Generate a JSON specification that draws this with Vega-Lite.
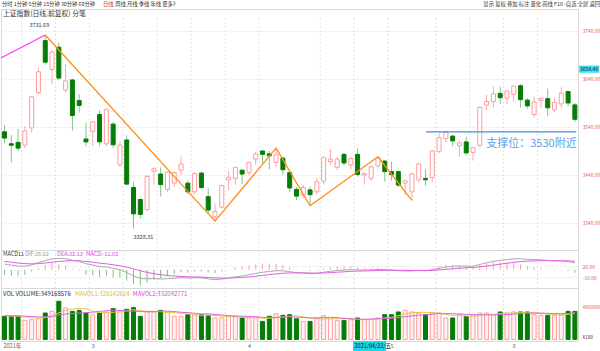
{
"$schema":"https://vega.github.io/schema/vega-lite/v6.json",
"padding":0,
"background":"white",
"spacing":0,
"bounds":"flush",
"config":{"font":"Noto Sans CJK SC","view":{"stroke":"#d9d9d9"},"line":{"strokeJoin":"round","strokeCap":"butt"}},
"resolve":{"scale":{"x":"independent","y":"independent"}},
"datasets":{
"one":[{}],
"k":[
{"i":0,"o":3530,"h":3544,"l":3506,"c":3517,"v":2880000,"dif":21.7,"dea":31.5,"m":-19.6,"a5":2950000,"a10":2950000},
{"i":1,"o":3505,"h":3523,"l":3466,"c":3502,"v":2880000,"dif":17.7,"dea":28.7,"m":-22.0,"a5":2900000,"a10":2950000},
{"i":2,"o":3508,"h":3536,"l":3490,"c":3496,"v":2880000,"dif":13.8,"dea":25.7,"m":-23.8,"a5":2900000,"a10":2950000},
{"i":3,"o":3502,"h":3542,"l":3496,"c":3532,"v":2380000,"dif":13.5,"dea":23.3,"m":-19.6,"a5":2800000,"a10":2900000},
{"i":4,"o":3538,"h":3604,"l":3528,"c":3603,"v":2460000,"dif":18.8,"dea":22.4,"m":-7.2,"a5":2700000,"a10":2850000},
{"i":5,"o":3612,"h":3664,"l":3608,"c":3655,"v":2580000,"dif":26.9,"dea":23.3,"m":7.2,"a5":2640000,"a10":2800000},
{"i":6,"o":3720,"h":3731.69,"l":3670,"c":3675,"v":3290000,"dif":34.5,"dea":25.5,"m":18.0,"a5":2720000,"a10":2810000},
{"i":7,"o":3660,"h":3700,"l":3630,"c":3696,"v":3500000,"dif":41.7,"dea":28.7,"m":26.0,"a5":2840000,"a10":2870000},
{"i":8,"o":3706,"h":3716,"l":3638,"c":3642,"v":4750000,"dif":42.6,"dea":31.5,"m":22.2,"a5":3320000,"a10":3060000},
{"i":9,"o":3617,"h":3671,"l":3612,"c":3636,"v":3920000,"dif":42.3,"dea":33.7,"m":17.2,"a5":3610000,"a10":3160000},
{"i":10,"o":3638,"h":3640,"l":3532,"c":3564,"v":3500000,"dif":35.9,"dea":34.1,"m":3.6,"a5":3790000,"a10":3220000},
{"i":11,"o":3595,"h":3608,"l":3570,"c":3585,"v":3620000,"dif":32.2,"dea":33.7,"m":-3.0,"a5":3860000,"a10":3290000},
{"i":12,"o":3515,"h":3549,"l":3500,"c":3509,"v":3290000,"dif":22.8,"dea":31.5,"m":-17.4,"a5":3820000,"a10":3330000},
{"i":13,"o":3531,"h":3552,"l":3500,"c":3551,"v":3080000,"dif":18.5,"dea":28.9,"m":-20.8,"a5":3480000,"a10":3400000},
{"i":14,"o":3566,"h":3575,"l":3500,"c":3509,"v":3290000,"dif":11.6,"dea":25.4,"m":-27.6,"a5":3360000,"a10":3490000},
{"i":15,"o":3505,"h":3578,"l":3500,"c":3577,"v":3420000,"dif":11.4,"dea":22.6,"m":-22.4,"a5":3340000,"a10":3570000},
{"i":16,"o":3546,"h":3551,"l":3496,"c":3503,"v":3830000,"dif":5.2,"dea":19.1,"m":-27.8,"a5":3380000,"a10":3620000},
{"i":17,"o":3461,"h":3510,"l":3457,"c":3502,"v":3540000,"dif":0.3,"dea":15.3,"m":-30.0,"a5":3430000,"a10":3630000},
{"i":18,"o":3513,"h":3523,"l":3419,"c":3421,"v":3750000,"dif":-10.1,"dea":10.2,"m":-40.6,"a5":3570000,"a10":3530000},
{"i":19,"o":3414,"h":3426,"l":3328.31,"c":3359,"v":3960000,"dif":-23.0,"dea":3.6,"m":-53.2,"a5":3700000,"a10":3530000},
{"i":20,"o":3389,"h":3391,"l":3349,"c":3358,"v":2880000,"dif":-32.9,"dea":-3.7,"m":-58.4,"a5":3590000,"a10":3470000},
{"i":21,"o":3368,"h":3440,"l":3365,"c":3437,"v":3420000,"dif":-34.0,"dea":-9.8,"m":-48.4,"a5":3510000,"a10":3450000},
{"i":22,"o":3448,"h":3456,"l":3420,"c":3453,"v":3420000,"dif":-33.2,"dea":-14.5,"m":-37.4,"a5":3490000,"a10":3460000},
{"i":23,"o":3442,"h":3456,"l":3395,"c":3420,"v":3620000,"dif":-34.8,"dea":-18.6,"m":-32.4,"a5":3460000,"a10":3520000},
{"i":24,"o":3410,"h":3448,"l":3405,"c":3446,"v":3420000,"dif":-33.6,"dea":-21.6,"m":-24.0,"a5":3350000,"a10":3530000},
{"i":25,"o":3423,"h":3447,"l":3415,"c":3445,"v":2880000,"dif":-32.3,"dea":-23.7,"m":-17.2,"a5":3350000,"a10":3470000},
{"i":26,"o":3450,"h":3478,"l":3440,"c":3463,"v":2880000,"dif":-29.5,"dea":-24.9,"m":-9.2,"a5":3240000,"a10":3380000},
{"i":27,"o":3423,"h":3428,"l":3400,"c":3405,"v":3080000,"dif":-31.6,"dea":-26.2,"m":-10.8,"a5":3180000,"a10":3340000},
{"i":28,"o":3405,"h":3446,"l":3400,"c":3443,"v":3080000,"dif":-29.9,"dea":-26.9,"m":-6.0,"a5":3070000,"a10":3270000},
{"i":29,"o":3444,"h":3447,"l":3410,"c":3414,"v":3080000,"dif":-30.5,"dea":-27.6,"m":-5.8,"a5":3000000,"a10":3180000},
{"i":30,"o":3395,"h":3413,"l":3360,"c":3367,"v":3000000,"dif":-34.4,"dea":-29.0,"m":-10.8,"a5":3020000,"a10":3190000},
{"i":31,"o":3353,"h":3381,"l":3344,"c":3364,"v":2670000,"dif":-37.3,"dea":-30.7,"m":-13.2,"a5":2980000,"a10":3110000},
{"i":32,"o":3373,"h":3420,"l":3370,"c":3418,"v":2670000,"dif":-34.9,"dea":-31.5,"m":-6.8,"a5":2900000,"a10":3040000},
{"i":33,"o":3430,"h":3448,"l":3409,"c":3435,"v":2880000,"dif":-31.2,"dea":-31.4,"m":0.4,"a5":2860000,"a10":2970000},
{"i":34,"o":3433,"h":3457,"l":3420,"c":3456,"v":2880000,"dif":-26.3,"dea":-30.4,"m":8.2,"a5":2820000,"a10":2910000},
{"i":35,"o":3450,"h":3451,"l":3421,"c":3442,"v":2670000,"dif":-23.3,"dea":-29.0,"m":11.4,"a5":2750000,"a10":2890000},
{"i":36,"o":3445,"h":3468,"l":3440,"c":3466,"v":2670000,"dif":-18.7,"dea":-26.9,"m":16.4,"a5":2750000,"a10":2870000},
{"i":37,"o":3473,"h":3488,"l":3460,"c":3484,"v":2670000,"dif":-13.5,"dea":-24.2,"m":21.4,"a5":2750000,"a10":2830000},
{"i":38,"o":3490,"h":3491,"l":3464,"c":3483,"v":2250000,"dif":-9.3,"dea":-21.2,"m":23.8,"a5":2630000,"a10":2750000},
{"i":39,"o":3484,"h":3490,"l":3452,"c":3480,"v":2880000,"dif":-6.2,"dea":-18.2,"m":24.0,"a5":2630000,"a10":2730000},
{"i":40,"o":3466,"h":3496,"l":3456,"c":3482,"v":3200000,"dif":-3.5,"dea":-15.3,"m":23.6,"a5":2730000,"a10":2740000},
{"i":41,"o":3475,"h":3478,"l":3440,"c":3451,"v":3000000,"dif":-3.8,"dea":-13.0,"m":18.4,"a5":2800000,"a10":2780000},
{"i":42,"o":3445,"h":3450,"l":3405,"c":3413,"v":3080000,"dif":-7.0,"dea":-11.8,"m":9.6,"a5":2880000,"a10":2820000},
{"i":43,"o":3410,"h":3415,"l":3388,"c":3396,"v":2580000,"dif":-10.9,"dea":-11.6,"m":1.4,"a5":2950000,"a10":2790000},
{"i":44,"o":3398,"h":3419,"l":3392,"c":3414,"v":2250000,"dif":-12.3,"dea":-11.7,"m":-1.2,"a5":2820000,"a10":2730000},
{"i":45,"o":3409,"h":3416,"l":3376,"c":3399,"v":2250000,"dif":-14.5,"dea":-12.3,"m":-4.4,"a5":2630000,"a10":2680000},
{"i":46,"o":3405,"h":3434,"l":3400,"c":3426,"v":2670000,"dif":-13.9,"dea":-12.6,"m":-2.6,"a5":2570000,"a10":2690000},
{"i":47,"o":3427,"h":3478,"l":3420,"c":3477,"v":2960000,"dif":-9.2,"dea":-11.9,"m":5.4,"a5":2540000,"a10":2710000},
{"i":48,"o":3468,"h":3494,"l":3460,"c":3473,"v":2670000,"dif":-5.7,"dea":-10.7,"m":10.0,"a5":2560000,"a10":2760000},
{"i":49,"o":3456,"h":3478,"l":3450,"c":3473,"v":2380000,"dif":-2.9,"dea":-9.1,"m":12.4,"a5":2590000,"a10":2710000},
{"i":50,"o":3483,"h":3486,"l":3460,"c":3465,"v":2380000,"dif":-1.4,"dea":-7.6,"m":12.4,"a5":2610000,"a10":2620000},
{"i":51,"o":3461,"h":3478,"l":3452,"c":3474,"v":2460000,"dif":0.6,"dea":-6.0,"m":13.2,"a5":2570000,"a10":2570000},
{"i":52,"o":3483,"h":3496,"l":3437,"c":3441,"v":2670000,"dif":-0.5,"dea":-4.9,"m":8.8,"a5":2510000,"a10":2530000},
{"i":53,"o":3440,"h":3444,"l":3420,"c":3443,"v":2460000,"dif":-1.2,"dea":-4.2,"m":6.0,"a5":2470000,"a10":2520000},
{"i":54,"o":3433,"h":3460,"l":3428,"c":3457,"v":2460000,"dif":-0.6,"dea":-3.5,"m":5.8,"a5":2490000,"a10":2540000},
{"i":55,"o":3459,"h":3478,"l":3455,"c":3475,"v":2670000,"dif":1.3,"dea":-2.5,"m":7.6,"a5":2540000,"a10":2580000},
{"i":56,"o":3469,"h":3471,"l":3426,"c":3447,"v":3080000,"dif":0.5,"dea":-1.9,"m":4.8,"a5":2670000,"a10":2620000},
{"i":57,"o":3447,"h":3468,"l":3428,"c":3441,"v":3080000,"dif":-0.6,"dea":-1.6,"m":2.0,"a5":2750000,"a10":2630000},
{"i":58,"o":3447,"h":3450,"l":3415,"c":3419,"v":3420000,"dif":-3.2,"dea":-1.9,"m":-2.6,"a5":2940000,"a10":2710000},
{"i":59,"o":3423,"h":3430,"l":3398,"c":3428,"v":3620000,"dif":-4.5,"dea":-2.4,"m":-4.2,"a5":3170000,"a10":2830000},
{"i":60,"o":3405,"h":3445,"l":3387,"c":3442,"v":3420000,"dif":-4.3,"dea":-2.8,"m":-3.0,"a5":3320000,"a10":2930000},
{"i":61,"o":3430,"h":3465,"l":3425,"c":3463,"v":3290000,"dif":-2.4,"dea":-2.7,"m":0.6,"a5":3370000,"a10":3020000},
{"i":62,"o":3433,"h":3452,"l":3418,"c":3430,"v":3080000,"dif":-3.6,"dea":-2.9,"m":-1.4,"a5":3370000,"a10":3060000},
{"i":63,"o":3435,"h":3491,"l":3425,"c":3490,"v":3290000,"dif":0.4,"dea":-2.2,"m":5.2,"a5":3340000,"a10":3140000},
{"i":64,"o":3489,"h":3528,"l":3485,"c":3518,"v":3290000,"dif":5.7,"dea":-0.6,"m":12.6,"a5":3270000,"a10":3220000},
{"i":65,"o":3516,"h":3532,"l":3508,"c":3529,"v":2670000,"dif":10.7,"dea":1.7,"m":18.0,"a5":3120000,"a10":3220000},
{"i":66,"o":3521,"h":3524,"l":3500,"c":3511,"v":2670000,"dif":13.0,"dea":4.0,"m":18.0,"a5":3000000,"a10":3190000},
{"i":67,"o":3501,"h":3511,"l":3478,"c":3507,"v":3080000,"dif":14.4,"dea":6.1,"m":16.6,"a5":3000000,"a10":3190000},
{"i":68,"o":3509,"h":3520,"l":3481,"c":3486,"v":2880000,"dif":13.7,"dea":7.6,"m":12.2,"a5":2920000,"a10":3130000},
{"i":69,"o":3487,"h":3497,"l":3470,"c":3497,"v":3080000,"dif":13.8,"dea":8.8,"m":10.0,"a5":2880000,"a10":3080000},
{"i":70,"o":3502,"h":3582,"l":3497,"c":3581,"v":3290000,"dif":20.4,"dea":11.1,"m":18.6,"a5":3000000,"a10":3060000},
{"i":71,"o":3586,"h":3607,"l":3575,"c":3593,"v":3290000,"dif":26.3,"dea":14.1,"m":24.4,"a5":3120000,"a10":3060000},
{"i":72,"o":3593,"h":3625,"l":3580,"c":3609,"v":3080000,"dif":31.9,"dea":17.7,"m":28.4,"a5":3120000,"a10":3060000},
{"i":73,"o":3610,"h":3624,"l":3588,"c":3601,"v":3420000,"dif":35.3,"dea":21.2,"m":28.2,"a5":3230000,"a10":3080000},
{"i":74,"o":3600,"h":3616,"l":3588,"c":3615,"v":3290000,"dif":38.7,"dea":24.7,"m":28.0,"a5":3270000,"a10":3080000},
{"i":75,"o":3608,"h":3626,"l":3592,"c":3625,"v":3420000,"dif":41.7,"dea":28.1,"m":27.2,"a5":3300000,"a10":3150000},
{"i":76,"o":3626,"h":3629,"l":3580,"c":3597,"v":3420000,"dif":41.4,"dea":30.8,"m":21.2,"a5":3330000,"a10":3230000},
{"i":77,"o":3596,"h":3600,"l":3578,"c":3584,"v":3420000,"dif":39.6,"dea":32.6,"m":14.0,"a5":3390000,"a10":3260000},
{"i":78,"o":3566,"h":3603,"l":3561,"c":3592,"v":3080000,"dif":38.4,"dea":33.8,"m":9.2,"a5":3330000,"a10":3280000},
{"i":79,"o":3595,"h":3602,"l":3580,"c":3599,"v":3000000,"dif":37.6,"dea":34.6,"m":6.0,"a5":3270000,"a10":3270000},
{"i":80,"o":3599,"h":3620,"l":3563,"c":3580,"v":3000000,"dif":35.0,"dea":34.7,"m":0.6,"a5":3180000,"a10":3240000},
{"i":81,"o":3576,"h":3600,"l":3570,"c":3591,"v":3000000,"dif":33.5,"dea":34.5,"m":-2.0,"a5":3100000,"a10":3220000},
{"i":82,"o":3588,"h":3623,"l":3580,"c":3611,"v":3080000,"dif":33.5,"dea":34.3,"m":-1.6,"a5":3030000,"a10":3210000},
{"i":83,"o":3614,"h":3615,"l":3583,"c":3590,"v":3500000,"dif":31.4,"dea":33.7,"m":-4.6,"a5":3120000,"a10":3230000},
{"i":84,"o":3586,"h":3590,"l":3550,"c":3556,"v":3491686,"dif":26.62,"dea":32.13,"m":-11.02,"a5":3261426,"a10":3320928}
],
"zz":[
{"leg":"a","i":-0.515,"p":3684},{"leg":"a","i":6,"p":3731.69},
{"leg":"b","i":6,"p":3731.69},{"leg":"b","i":31,"p":3344},{"leg":"b","i":40,"p":3496},{"leg":"b","i":45,"p":3376},{"leg":"b","i":55,"p":3478},{"leg":"b","i":60,"p":3387}
],
"grid":[{"g":2.5},{"g":7.5},{"g":12.5},{"g":17.5},{"g":22.5},{"g":27.5},{"g":32.5},{"g":37.5},{"g":46.5},{"g":51.5},{"g":56.5},{"g":63.5},{"g":68.5},{"g":73.5},{"g":78.5}],
"dates":[{"i":0,"t":"2021年"},{"i":13,"t":"3"},{"i":36,"t":"4"},{"i":57,"t":"5"},{"i":75,"t":"6"}]
},
"vconcat":[
{
"width":577,"height":9,
"view":{"stroke":null},
"data":{"name":"one"},
"layer":[
{"mark":{"type":"text","fontSize":5.3,"color":"#333333","align":"left","baseline":"middle","dx":1,"dy":-0.5},
 "encoding":{"x":{"datum":-0.515,"type":"quantitative","scale":{"domain":[-0.515,84.46],"nice":false,"zero":false,"padding":0},"axis":null},"text":{"value":"分时 1分钟 5分钟 15分钟 30分钟 60分钟"}}},
{"mark":{"type":"text","fontSize":5.3,"color":"#e03030","align":"left","baseline":"middle","dy":-0.5},
 "encoding":{"x":{"datum":14.5},"text":{"value":"日线"}}},
{"mark":{"type":"text","fontSize":5.3,"color":"#333333","align":"left","baseline":"middle","dy":-0.5},
 "encoding":{"x":{"datum":16.3},"text":{"value":"周线 月线 季线 年线 更多》"}}},
{"mark":{"type":"text","fontSize":5.3,"color":"#333333","align":"right","baseline":"middle","dx":-1,"dy":-0.5},
 "encoding":{"x":{"datum":87.85},"text":{"value":"显示 复权 叠加 标注 量化 画线 F10 -自选 全屏 返回"}}}
]
},
{
"width":577,"height":241,
"layer":[
{"data":{"name":"grid"},"mark":{"type":"rule","strokeDash":[2,2],"color":"#e3e3e3","strokeWidth":1},
 "encoding":{"x":{"field":"g","type":"quantitative","scale":{"domain":[-0.515,84.46],"nice":false,"zero":false,"padding":0},"axis":null},
  "y":{"datum":3767},"y2":{"datum":3283.75}}},
{"data":{"name":"k"},"mark":{"type":"rule","strokeWidth":1},
 "encoding":{"x":{"field":"i","type":"quantitative"},
  "y":{"field":"l","type":"quantitative","scale":{"domain":[3283.75,3785.83],"nice":false,"zero":false,"padding":0},
   "axis":{"orient":"right","values":[3340,3390,3440,3490,3540,3590,3640,3690,3740],"format":".2f","labelFontSize":5,"labelColor":"#e65c5c","ticks":false,"labelPadding":4,"grid":true,"gridDash":[2,2],"gridColor":"#e6e6e6","domain":false,"title":null}},
  "y2":{"field":"h"},
  "color":{"condition":{"test":"datum.c >= datum.o","value":"#ffa8a8"},"value":"#88c488"}}},
{"data":{"name":"k"},"mark":{"type":"bar","size":4,"strokeWidth":1},
 "encoding":{"x":{"field":"i","type":"quantitative"},"y":{"field":"o","type":"quantitative"},"y2":{"field":"c"},
  "fill":{"condition":{"test":"datum.c >= datum.o","value":"#ffffff"},"value":"#067d06"},
  "stroke":{"condition":{"test":"datum.c >= datum.o","value":"#ff9c9c"},"value":"#067d06"}}},
{"data":{"name":"zz"},"mark":{"type":"line","strokeWidth":1.3,"clip":true,"strokeJoin":"round"},
 "encoding":{"x":{"field":"i","type":"quantitative"},"y":{"field":"p","type":"quantitative"},
  "color":{"field":"leg","type":"nominal","scale":{"domain":["a","b"],"range":["#ff3cff","#ff8c1a"]},"legend":null}}},
{"data":{"name":"k"},"transform":[{"filter":"datum.i == 6"}],"mark":{"type":"text","align":"right","baseline":"bottom","dx":4,"dy":-7,"fontSize":5.5,"color":"#333333"},
 "encoding":{"x":{"field":"i","type":"quantitative"},"y":{"field":"h","type":"quantitative"},"text":{"field":"h","type":"quantitative","format":".2f"}}},
{"data":{"name":"k"},"transform":[{"filter":"datum.i == 19"}],"mark":{"type":"text","align":"left","baseline":"top","dx":0,"dy":6,"fontSize":5.5,"color":"#333333"},
 "encoding":{"x":{"field":"i","type":"quantitative"},"y":{"field":"l","type":"quantitative"},"text":{"field":"l","type":"quantitative","format":".2f"}}},
{"data":{"name":"one"},"mark":{"type":"text","fontSize":6.8,"color":"#333333","align":"left","baseline":"middle"},
 "encoding":{"x":{"datum":-0.22},"y":{"datum":3775.5},"text":{"value":"上证指数(日线,前复权) 分笔"}}},
{"data":{"name":"one"},"mark":{"type":"rule","color":"#3d8fe0","strokeWidth":1.2},
 "encoding":{"x":{"datum":62.1},"x2":{"datum":84.2},"y":{"datum":3530}}},
{"data":{"name":"one"},"mark":{"type":"text","fontSize":11,"color":"#5aa0ea","align":"center","baseline":"middle"},
 "encoding":{"x":{"datum":77.6},"y":{"datum":3505},"text":{"value":"支撑位：3530附近"}}},
{"data":{"name":"one"},"mark":{"type":"rect","color":"#45e0ee"},
 "encoding":{"x":{"datum":84.62},"x2":{"datum":87.6},"y":{"datum":3653},"y2":{"datum":3668}}},
{"data":{"name":"one"},"mark":{"type":"text","fontSize":5,"color":"#111111","align":"center","baseline":"middle"},
 "encoding":{"x":{"datum":86.1},"y":{"datum":3660.5},"text":{"value":"3654.46"}}}
]
},
{
"width":577,"height":38,
"layer":[
{"data":{"name":"grid"},"mark":{"type":"rule","strokeDash":[2,2],"color":"#e3e3e3","strokeWidth":1},
 "encoding":{"x":{"field":"g","type":"quantitative","scale":{"domain":[-0.515,84.46],"nice":false,"zero":false,"padding":0},"axis":null}}},
{"data":{"name":"k"},"mark":{"type":"rule","strokeWidth":1},
 "encoding":{"x":{"field":"i","type":"quantitative"},
  "y":{"field":"m","type":"quantitative","scale":{"domain":[-68.7,74.7],"nice":false,"zero":false,"padding":0},
   "axis":{"orient":"right","values":[14.3,-27.2],"labelExpr":"datum.value > 0 ? '20.00' : '-10.00'","labelFontSize":5,"labelColor":"#e65c5c","ticks":false,"labelPadding":4,"grid":true,"gridDash":[2,2],"gridColor":"#e6e6e6","domain":false,"title":null}},
  "y2":{"datum":0},
  "color":{"condition":{"test":"datum.m >= 0","value":"#ffa0a0"},"value":"#7cc27c"}}},
{"data":{"name":"k"},"mark":{"type":"line","strokeWidth":1,"color":"#aaaaaa","clip":true,"strokeJoin":"round"},
 "encoding":{"x":{"field":"i","type":"quantitative"},"y":{"field":"dif","type":"quantitative"}}},
{"data":{"name":"k"},"mark":{"type":"line","strokeWidth":1,"color":"#e65ce6","clip":true,"strokeJoin":"round"},
 "encoding":{"x":{"field":"i","type":"quantitative"},"y":{"field":"dea","type":"quantitative"}}},
{"data":{"name":"one"},"mark":{"type":"text","fontSize":5.5,"color":"#333333","align":"left","baseline":"middle"},
 "encoding":{"x":{"datum":-0.22},"y":{"datum":58},"text":{"value":"MACD11"}}},
{"data":{"name":"one"},"mark":{"type":"text","fontSize":5.5,"color":"#999999","align":"left","baseline":"middle"},
 "encoding":{"x":{"datum":3.05},"y":{"datum":58},"text":{"value":"DIF:26.62"}}},
{"data":{"name":"one"},"mark":{"type":"text","fontSize":5.5,"color":"#e040e0","align":"left","baseline":"middle"},
 "encoding":{"x":{"datum":7.75},"y":{"datum":58},"text":{"value":"DEA:32.13"}}},
{"data":{"name":"one"},"mark":{"type":"text","fontSize":5.5,"color":"#e040e0","align":"left","baseline":"middle"},
 "encoding":{"x":{"datum":12.0},"y":{"datum":58},"text":{"value":"MACD:-11.02"}}}
]
},
{
"width":577,"height":53,
"layer":[
{"data":{"name":"grid"},"mark":{"type":"rule","strokeDash":[2,2],"color":"#e3e3e3","strokeWidth":1},
 "encoding":{"x":{"field":"g","type":"quantitative","scale":{"domain":[-0.515,84.46],"nice":false,"zero":false,"padding":0},"axis":null}}},
{"data":{"name":"k"},"mark":{"type":"bar","size":4,"strokeWidth":1},
 "encoding":{"x":{"field":"i","type":"quantitative"},
  "y":{"field":"v","type":"quantitative","scale":{"domain":[-190000,6400000],"nice":false,"zero":false,"padding":0},
   "axis":{"orient":"right","values":[4000000,2000000,250000],"labelExpr":"datum.value < 1000000 ? 'X100' : format(datum.value, 'd')","labelFontSize":4.6,"labelColor":{"condition":{"test":"datum.value < 1000000","value":"#333333"},"value":"#e65c5c"},"ticks":false,"labelPadding":4,"grid":false,"domain":false,"title":null}},
  "fill":{"condition":{"test":"datum.c >= datum.o","value":"#fff2f2"},"value":"#067d06"},
  "stroke":{"condition":{"test":"datum.c >= datum.o","value":"#ff9c9c"},"value":"#067d06"}}},
{"data":{"name":"k"},"mark":{"type":"line","strokeWidth":1,"color":"#e8c84c","clip":true,"strokeJoin":"round"},
 "encoding":{"x":{"field":"i","type":"quantitative"},"y":{"field":"a5","type":"quantitative"}}},
{"data":{"name":"k"},"mark":{"type":"line","strokeWidth":1,"color":"#dd66dd","clip":true,"strokeJoin":"round"},
 "encoding":{"x":{"field":"i","type":"quantitative"},"y":{"field":"a10","type":"quantitative"}}},
{"data":{"name":"one"},"mark":{"type":"text","fontSize":6,"color":"#333333","align":"left","baseline":"middle"},
 "encoding":{"x":{"datum":-0.22},"y":{"datum":5700000},"text":{"value":"VOL VOLUME:349168576"}}},
{"data":{"name":"one"},"mark":{"type":"text","fontSize":6,"color":"#e0c020","align":"left","baseline":"middle"},
 "encoding":{"x":{"datum":10.38},"y":{"datum":5700000},"text":{"value":"MAVOL1:326142624"}}},
{"data":{"name":"one"},"mark":{"type":"text","fontSize":6,"color":"#e040e0","align":"left","baseline":"middle"},
 "encoding":{"x":{"datum":18.9},"y":{"datum":5700000},"text":{"value":"MAVOL2:332092771"}}}
]
},
{
"width":577,"height":10,
"view":{"stroke":null},
"layer":[
{"data":{"name":"one"},"mark":{"type":"rect","color":"#1cd8e8"},
 "encoding":{"x":{"datum":51.33,"type":"quantitative","scale":{"domain":[-0.515,84.46],"nice":false,"zero":false,"padding":0},"axis":null},"x2":{"datum":56.2}}},
{"data":{"name":"dates"},"mark":{"type":"text","fontSize":5.5,"color":"#666666","align":"left","baseline":"middle","dx":-1},
 "encoding":{"x":{"field":"i","type":"quantitative"},"text":{"field":"t"}}},
{"data":{"name":"one"},"mark":{"type":"text","fontSize":5.5,"color":"#111111","align":"left","baseline":"middle","dx":1.5},
 "encoding":{"x":{"datum":51.33},"text":{"value":"2021/04/23/五"}}}
]
}
]
}
